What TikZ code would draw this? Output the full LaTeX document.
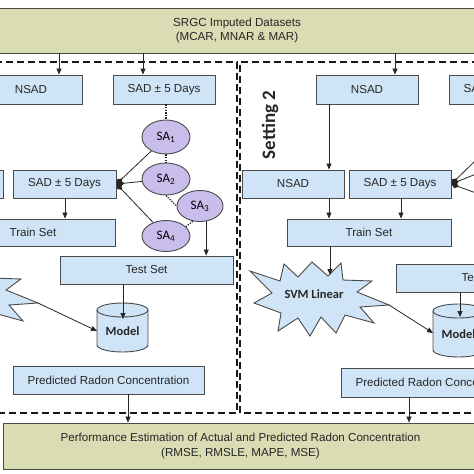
\documentclass[tikz,border=0pt]{standalone}
\usepackage{fontspec}
\setmainfont{Liberation Sans}
\newfontfamily\calib{Carlito}
\usetikzlibrary{arrows.meta,shapes.geometric}
\definecolor{boxblue}{HTML}{CFE5F7}
\definecolor{bordc}{HTML}{4A4A4A}
\definecolor{olive}{HTML}{DADCB4}
\definecolor{lav}{HTML}{C9BEEB}
\begin{document}
\begin{tikzpicture}[x=1pt,y=-1pt,
  box/.style={draw=bordc, fill=boxblue, line width=0.9pt, inner sep=0pt,
    font=\fontsize{11.6}{13}\selectfont, text=black!85},
  obox/.style={box, fill=olive, align=center, font=\fontsize{11.6}{14.5}\selectfont},
  sa/.style={ellipse, draw=bordc, fill=lav, line width=0.9pt, inner sep=0pt,
    font=\calib\fontsize{13}{13}\selectfont},
  arr/.style={draw=black!85, line width=0.8pt, -{Triangle[length=6pt,width=5pt]}},
  dia/.style={draw=black!85, line width=0.8pt, -{Diamond[length=8pt,width=6pt]}},
  dots/.style={draw=black!85, line width=1.3pt, dash pattern=on 1.3pt off 1.3pt},
  frame/.style={draw=black!90, line width=1.6pt, dash pattern=on 7pt off 4pt},
  starsty/.style={draw=bordc, fill=boxblue, line width=0.9pt},
  burst/.pic={\draw[starsty] (250,271) -- (280,281) -- (284,264) -- (298,277)
     -- (312,262) -- (328,276) -- (341,263) -- (343,280) -- (372,281)
     -- (357,292) -- (389,305) -- (360,307) -- (374,323) -- (345,315)
     -- (336,333) -- (321,317) -- (310,336) -- (298,318) -- (278,331)
     -- (281,313) -- (254,303) -- (272,293) -- cycle;}
]
\useasboundingbox (0,0) rectangle (474,474);
\clip (0,0) rectangle (474,474);

% dashed setting frames
\draw[frame] (-5,62) -- (237,62) -- (237,413) -- (-5,413);
\draw[frame] (479,62) -- (240,62) -- (240,413) -- (479,413);

% top and bottom boxes
\node[obox, minimum width=478pt, minimum height=45pt] (top) at (237,30.5)
  {SRGC Imputed Datasets\\(MCAR, MNAR \& MAR)};
\node[obox, minimum width=475pt, minimum height=46pt] (perf) at (240.5,446)
  {Performance Estimation of Actual and Predicted Radon Concentration\\(RMSE, RMSLE, MAPE, MSE)};

% first row
\node[box, minimum width=102pt, minimum height=29pt] (nsadL) at (31,89.5) {NSAD};
\node[box, minimum width=102pt, minimum height=29pt] (sadL) at (164,89.5) {SAD ± 5 Days};
\node[box, minimum width=102pt, minimum height=29pt] (nsadR) at (367,89.5) {NSAD};
\node[box, minimum width=102pt, minimum height=29pt] (sadR) at (500,89.5) {SAD ± 5 Days};

% second row
\node[box, minimum width=102pt, minimum height=28pt] (nsadLL) at (-48,184) {NSAD};
\node[box, minimum width=103pt, minimum height=28pt] (sadLL) at (64.5,184) {SAD ± 5 Days};
\node[box, minimum width=102pt, minimum height=28pt] (nsadRR) at (293,184) {NSAD};
\node[box, minimum width=102pt, minimum height=28pt] (sadRR) at (400,184) {SAD ± 5 Days};

% train / test
\node[box, minimum width=164pt, minimum height=27pt] (trainL) at (33,232.5) {Train Set};
\node[box, minimum width=164pt, minimum height=27pt] (trainR) at (369,232.5) {Train Set};
\node[box, minimum width=173pt, minimum height=28pt] (testL) at (146.5,270) {Test Set};
\node[box, minimum width=173pt, minimum height=28pt] (testR) at (482.5,278) {Test Set};

% predicted
\node[box, minimum width=191pt, minimum height=28pt] (predL) at (108.5,380) {Predicted Radon Concentration};
\node[box, minimum width=191pt, minimum height=29pt] (predR) at (436.5,382.5) {Predicted Radon Concentration};

% SA ellipses
\node[sa, minimum width=48pt, minimum height=34pt] (sa1) at (166,137) {SA\textsubscript{1}};
\node[sa, minimum width=48pt, minimum height=32pt] (sa2) at (166,179) {SA\textsubscript{2}};
\node[sa, minimum width=46pt, minimum height=31pt] (sa3) at (200,206) {SA\textsubscript{3}};
\node[sa, minimum width=48pt, minimum height=31pt] (sa4) at (166,236) {SA\textsubscript{4}};

% cylinders (Model)
\fill[boxblue] (97,310) -- (97,345) arc[start angle=180,end angle=0,x radius=25.5,y radius=7]
  -- (148,310) arc[start angle=0,end angle=-180,x radius=25.5,y radius=7] -- cycle;
\draw[bordc, line width=0.9pt] (97,310) -- (97,345) arc[start angle=180,end angle=0,x radius=25.5,y radius=7] -- (148,310);
\draw[bordc, line width=0.9pt] (122.5,310) ellipse[x radius=25.5, y radius=7];
\node[font=\calib\bfseries\fontsize{12.5}{12.5}\selectfont, text=black!85] (modelL) at (122.5,331) {Model};
\fill[boxblue] (433,311) -- (433,350) arc[start angle=180,end angle=0,x radius=25.5,y radius=7]
  -- (484,311) arc[start angle=0,end angle=-180,x radius=25.5,y radius=7] -- cycle;
\draw[bordc, line width=0.9pt] (433,311) -- (433,350) arc[start angle=180,end angle=0,x radius=25.5,y radius=7] -- (484,311);
\draw[bordc, line width=0.9pt] (458.5,311) ellipse[x radius=25.5, y radius=7];
\node[font=\calib\bfseries\fontsize{12.5}{12.5}\selectfont, text=black!85] (modelR) at (458.5,334) {Model};

% starbursts
\pic at (0,0) {burst};
\pic at (-351,-2) {burst};
\node[font=\calib\bfseries\fontsize{12.5}{12.5}\selectfont, text=black!85] (svm) at (314,294) {SVM Linear};

% setting label
\node[rotate=90, font=\calib\bfseries\fontsize{19}{19}\selectfont, text=black!85] (set2) at (270,125) {Setting 2};

% helper coordinates
\coordinate (x59) at (59,0);
\coordinate (x143) at (143,0);
\coordinate (x395) at (395,0);
\coordinate (x329) at (329,0);
\coordinate (x401) at (401,0);
\coordinate (x65) at (65,0);
\coordinate (x128) at (128,0);
\coordinate (x409) at (409,0);
\coordinate (modelLin) at (123,319);
\coordinate (modelRin) at (460,317);
\coordinate (modelLw) at (97,331);
\coordinate (modelRw) at (433,333);
\coordinate (starRtop) at (330,275);
\coordinate (starRtip) at (389,305);
\coordinate (starLtip) at (38,303);
\coordinate (offa) at (476,160);
\coordinate (offb) at (476,174);
\coordinate (offc) at (476,193);

% connectors
\draw[arr] (top.south -| x59) -- (nsadL.north -| x59);
\draw[arr] (top.south -| x143) -- (sadL.north -| x143);
\draw[arr] (top.south -| x395) -- (nsadR.north -| x395);
\draw[arr] (nsadR.south -| x329) -- (nsadRR.north -| x329);
\draw[arr] (nsadRR.south -| x329) -- (trainR.north -| x329);
\draw[arr] (sadRR.south -| x401) -- (trainR.north -| x401);
\draw[arr] (sadLL.south -| x65) -- (trainL.north -| x65);
\draw[arr] (trainR.south -| starRtop) -- (starRtop);
\draw[arr] (starRtip) -- (modelRw);
\draw[arr] (starLtip) -- (modelLw);
\draw[arr] (testL.south -| modelLin) -- (modelLin);
\draw[arr] (testR.south -| modelRin) -- (modelRin);
\draw[arr] (sa3.-68) -- (testL.north -| sa3.-68);
\draw[arr] (predL.south -| x128) -- (perf.north -| x128);
\draw[arr] (predR.south -| x409) -- (perf.north -| x409);

\draw[dots] (sadL.south -| sa1.north) -- (sa1.north);
\draw[dots] (sa1.south) -- (sa2.north);
\draw[dots] (sa2.south) -- (sa3.west);
\draw[dots] (sa3.-115) -- (sa4.25);

\draw[dia] (sa1) -- (sadLL.east);
\draw[dia] (sa2) -- (sadLL.east);
\draw[dia] (sa4) -- (sadLL.east);
\draw[dia] (offa) -- (sadRR.east);
\draw[dia] (offb) -- (sadRR.east);
\draw[dia] (offc) -- (sadRR.east);
\end{tikzpicture}
\end{document}
